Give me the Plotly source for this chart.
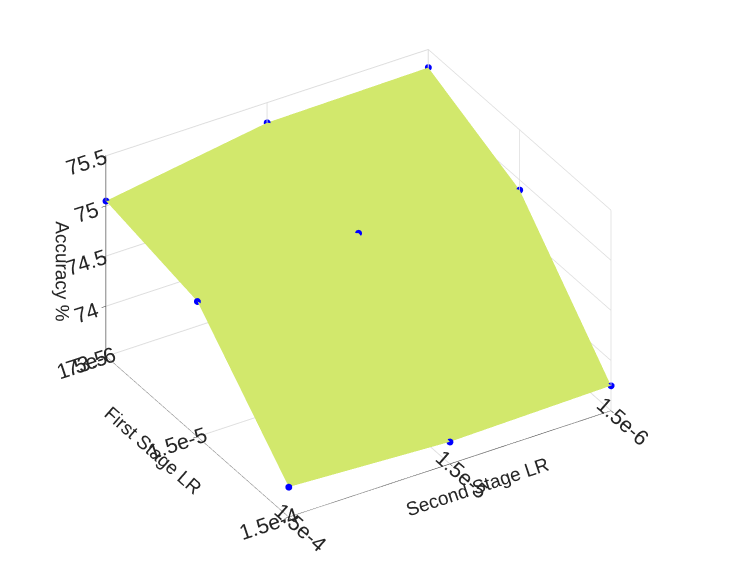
import plotly.graph_objects as go

fs_labels = ["1.5e-4", "1.5e-5", "1.5e-6"]   # First Stage LR (x axis)
ss_labels = ["1.5e-6", "1.5e-5", "1.5e-4"]   # Second Stage LR (y axis)
# accuracy rows = First Stage LR [1.5e-6, 1.5e-5, 1.5e-4],
# cols = Second Stage LR [1.5e-4, 1.5e-5, 1.5e-6]
fs_order = ["1.5e-6", "1.5e-5", "1.5e-4"]
ss_order = ["1.5e-4", "1.5e-5", "1.5e-6"]
acc = [
    [75.05, 75.30, 75.32],
    [74.85, 75.00, 74.90],
    [73.80, 73.72, 73.75],
]

xs = list(range(len(fs_labels)))
ys = list(range(len(ss_labels)))
z = [[None] * len(xs) for _ in ys]
px, py, pz = [], [], []
for i, f in enumerate(fs_order):
    for j, s in enumerate(ss_order):
        xi = fs_labels.index(f); yi = ss_labels.index(s)
        z[yi][xi] = acc[i][j]
        px.append(xi); py.append(yi); pz.append(acc[i][j])

fig = go.Figure()
fig.add_trace(go.Surface(
    x=xs, y=ys, z=z,
    colorscale=[[0, "#d2e86c"], [1, "#d2e86c"]], showscale=False,
    lighting=dict(ambient=0.95, diffuse=0.1, specular=0.0, fresnel=0.0),
    hoverinfo="skip"))
fig.add_trace(go.Scatter3d(x=px, y=py, z=pz, mode="markers",
                           marker=dict(color="#0000ff", size=4)))

ax = dict(showbackground=False, gridcolor="#dddddd", linecolor="#262626",
          showline=True, zeroline=False, ticks="outside", tickcolor="#262626",
          tickfont=dict(size=16, color="#262626"), showspikes=False)
fig.update_layout(
    width=754, height=571, paper_bgcolor="white", showlegend=False,
    margin=dict(l=0, r=0, t=0, b=0),
    font=dict(family="Liberation Sans, Arial", color="#262626"),
    scene=dict(
        domain=dict(x=[0, 0.93], y=[0.02, 1]),
        xaxis=dict(ax, title=dict(text="First Stage LR", font=dict(size=19)),
                   tickvals=xs, ticktext=fs_labels, range=[0, 2]),
        yaxis=dict(ax, title=dict(text="Second Stage LR", font=dict(size=19)),
                   tickvals=ys, ticktext=ss_labels, range=[0, 2]),
        zaxis=dict(ax, title=dict(text="Accuracy %", font=dict(size=19)),
                   tickvals=[73.5, 74, 74.5, 75, 75.5], range=[73.5, 75.5]),
        aspectmode="manual", aspectratio=dict(x=1.25, y=1.35, z=0.85),
        camera=dict(eye=dict(x=-1.6, y=0.98, z=1.18),
                    center=dict(x=0, y=0, z=-0.02),
                    projection=dict(type="orthographic")),
    ),
)
fig.write_html("out.html")
